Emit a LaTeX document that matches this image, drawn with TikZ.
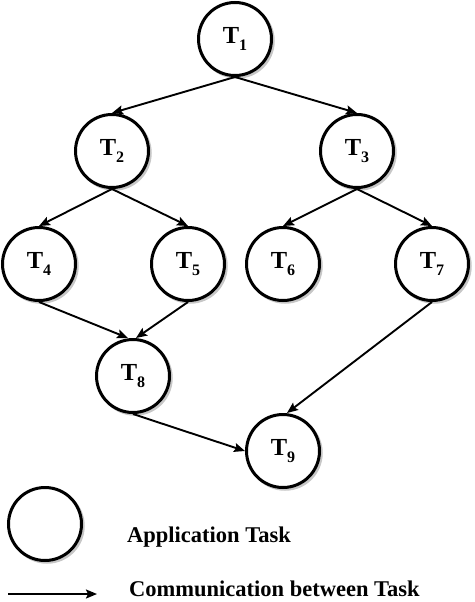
\documentclass[tikz,border=0pt]{standalone}
\usepackage{fontspec}
\setmainfont{Liberation Serif}
\usetikzlibrary{arrows.meta}
\newcommand{\tlab}[1]{\fontsize{24.5}{24.5}\selectfont\bfseries T\raisebox{-7pt}{\fontsize{16}{16}\selectfont\bfseries #1}}
\tikzset{
  task/.style={circle, draw=black, line width=3pt, minimum size=73pt, inner sep=0pt, fill=white},
  shad/.style={circle, draw=black!22, line width=2.5pt, minimum size=73pt, inner sep=0pt},
  edge/.style={line width=1.9pt, -{Stealth[length=11pt,width=9pt,inset=2pt]}},
  legtext/.style={anchor=base west, inner sep=0pt, font=\fontsize{22.5}{22.5}\selectfont\bfseries}
}
\begin{document}
\begin{tikzpicture}[x=1pt,y=-1pt]
\useasboundingbox (0,0) rectangle (474,602);
% shadows
\foreach \px/\py [count=\i] in {235/39,112/151,357/151,39/264,188/264,283/264,432/264,133/376,283/451,45/524}{
  \node[shad] (S\i) at (\px+2,\py+2) {};
}
\node[task] (T1) at (235,39) {\tlab{1}};
\node[task] (T2) at (112,151) {\tlab{2}};
\node[task] (T3) at (357,151) {\tlab{3}};
\node[task] (T4) at (39,264) {\tlab{4}};
\node[task] (T5) at (188,264) {\tlab{5}};
\node[task] (T6) at (283,264) {\tlab{6}};
\node[task] (T7) at (432,264) {\tlab{7}};
\node[task] (T8) at (133,376) {\tlab{8}};
\node[task] (T9) at (283,451) {\tlab{9}};
\draw[edge] (T1.south) -- (T2.north);
\draw[edge] (T1.south) -- (T3.north);
\draw[edge] (T2.south) -- (T4.north);
\draw[edge] (T2.south) -- (T5.north);
\draw[edge] (T3.south) -- (T6.north);
\draw[edge] (T3.south) -- (T7.north);
\draw[edge] (T4.south) -- ([xshift=-5pt]T8.north);
\draw[edge] (T5.south) -- ([xshift=3pt]T8.north);
\draw[edge] (T8.south) -- (T9.west);
\draw[edge] (T7.south) -- ([xshift=4pt]T9.north);
% legend
\node[task] (L1) at (45,524) {};
\node[legtext] (L1t) at (127,542) {Application Task};
\coordinate (A0) at (8,594);
\coordinate (A1) at (97,594);
\draw[edge] (A0) -- (A1);
\node[legtext] (L2t) at (129,596) {Communication between Task};
\end{tikzpicture}
\end{document}
